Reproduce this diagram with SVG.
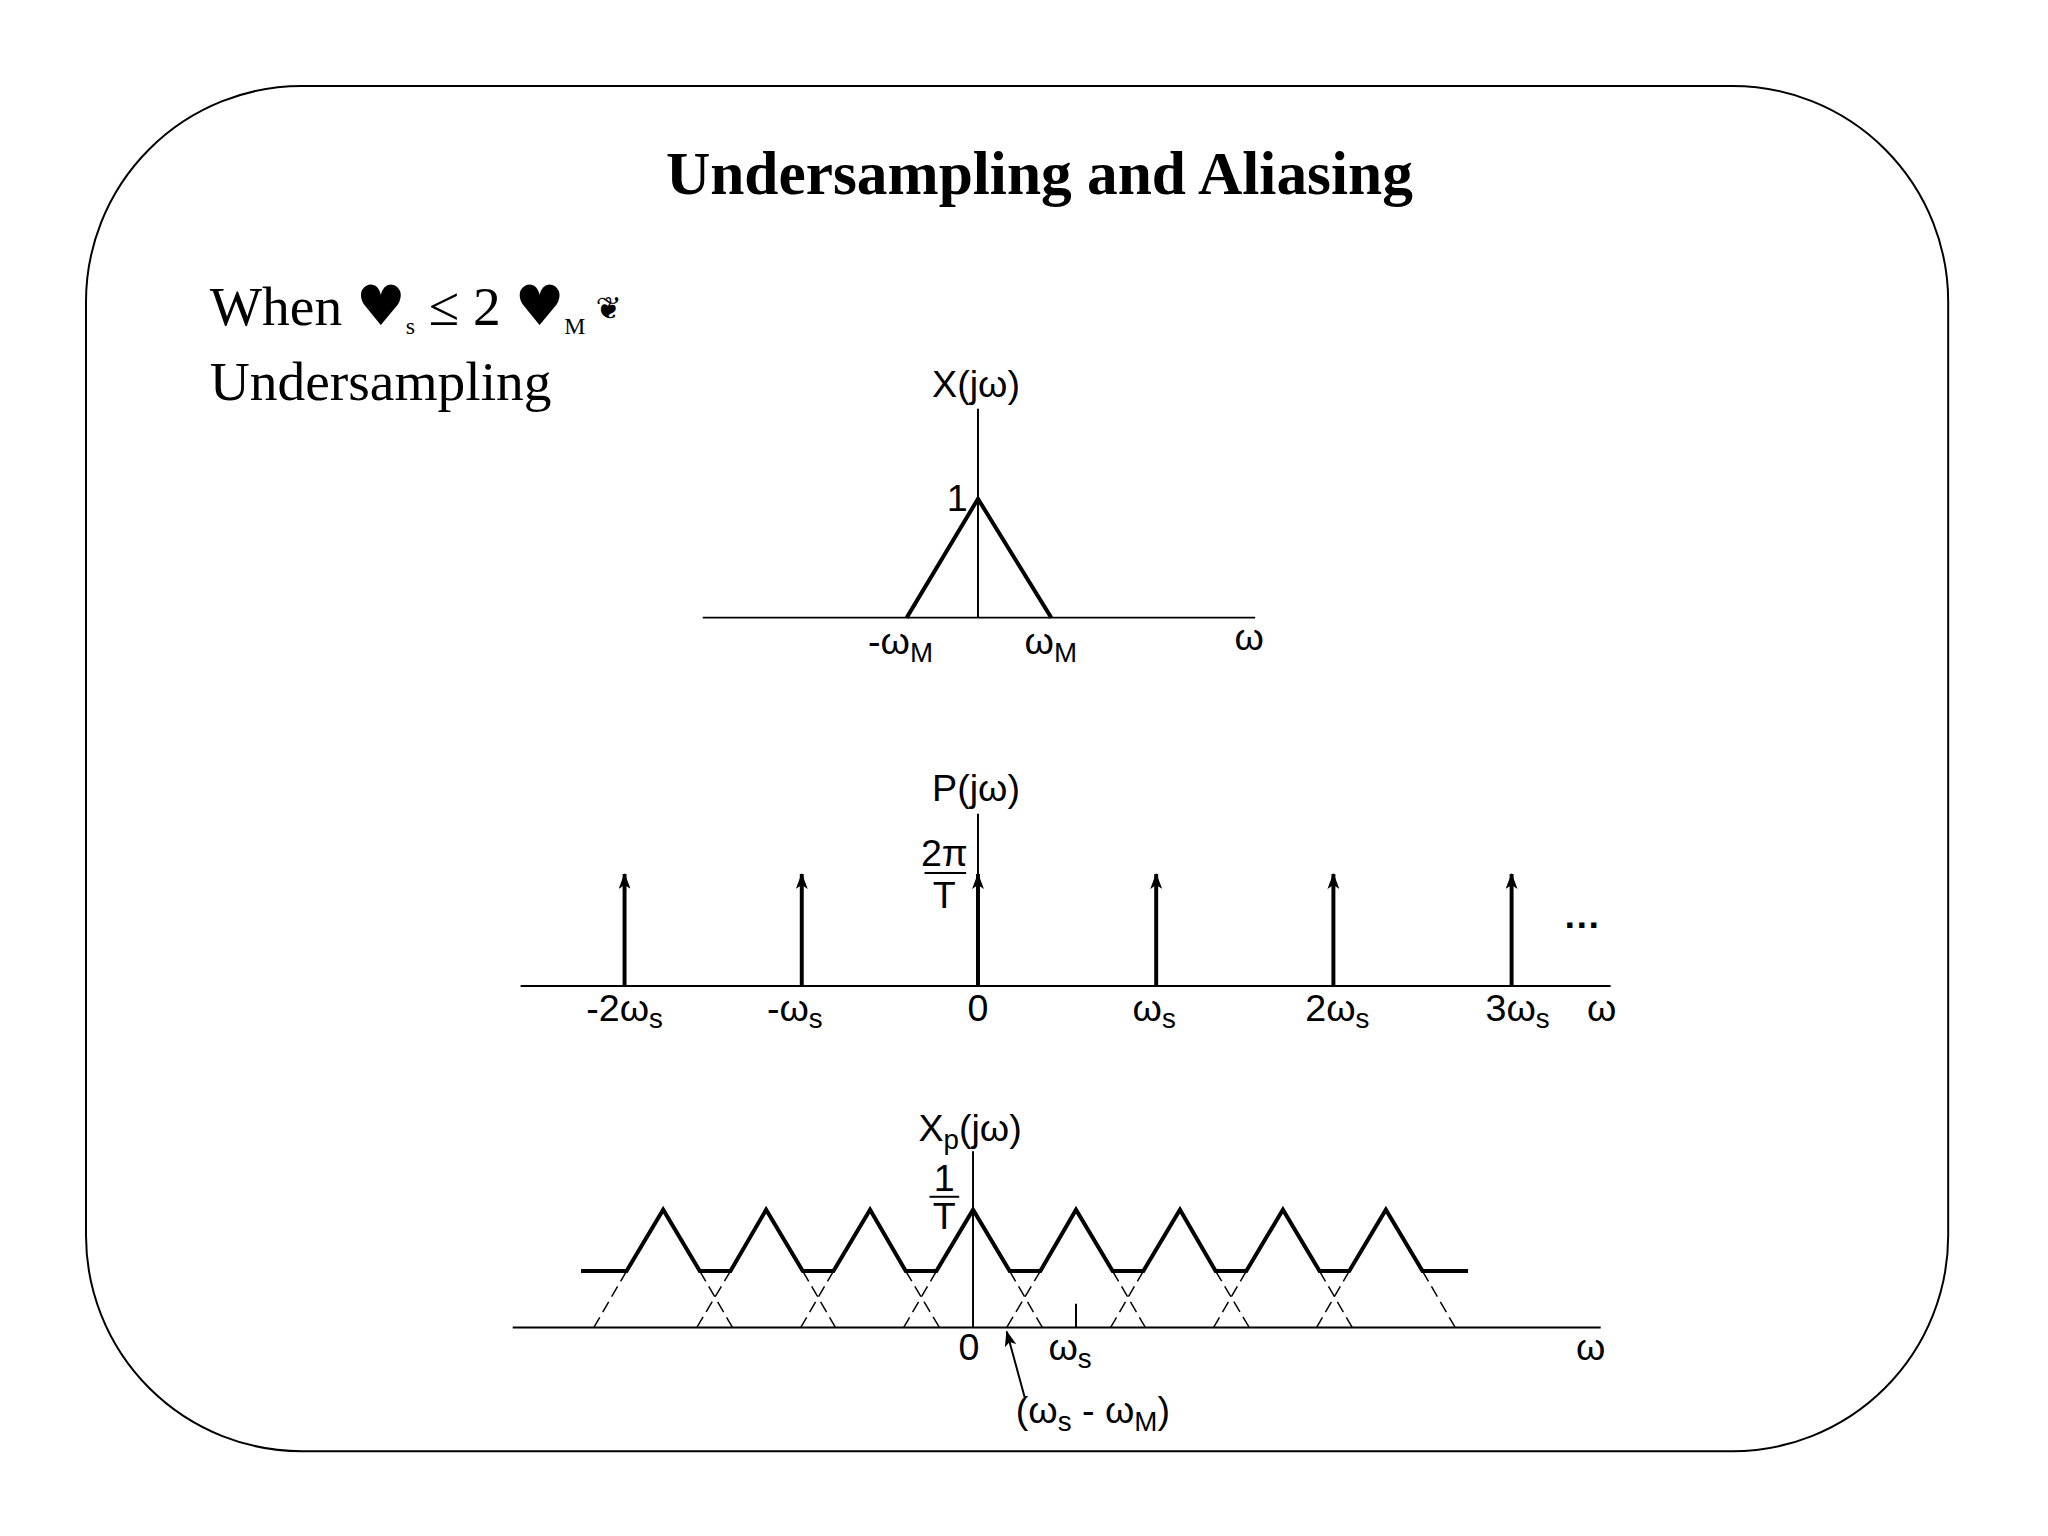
<svg xmlns="http://www.w3.org/2000/svg" width="2048" height="1536" viewBox="0 0 2048 1536">
<defs>
<style>
.ser{font-family:"Liberation Serif","Times New Roman",serif;fill:#000}
.lab{font-family:"Liberation Sans Narrow","Liberation Sans",Arial,sans-serif;font-size:38px;fill:#000}
.sub{font-size:28px}
.ax{stroke:#000;stroke-width:2;fill:none}
.imp{stroke:#000;stroke-width:4;fill:none}
.sol{stroke:#000;stroke-width:4;fill:none;stroke-linejoin:miter}
.dash{stroke:#000;stroke-width:1.5;fill:none;stroke-dasharray:12 6}
</style>
<marker id="ah" markerWidth="16" markerHeight="12" refX="15" refY="6" orient="auto" markerUnits="userSpaceOnUse" viewBox="0 0 16 12"><path d="M0,0 L16,6 L0,12 L4,6 Z" fill="#000"/></marker>
</defs>
<g transform="translate(86,86) scale(0.99) translate(-86,-86)">
<rect x="86" y="86" width="1881" height="1379" rx="218" ry="218" fill="#fff" stroke="#000" stroke-width="2"/>
<text class="ser" x="1049" y="195" font-size="62" font-weight="bold" text-anchor="middle">Undersampling and Aliasing</text>
<g id="intro">
<text class="ser" x="211" y="327" font-size="56">When <tspan font-family="DejaVu Sans" font-size="56">♥</tspan><tspan font-size="24" dy="10">s</tspan><tspan dy="-10"> ≤ 2 </tspan><tspan font-family="DejaVu Sans" font-size="56">♥</tspan><tspan font-size="24" dy="10">M</tspan><tspan dy="-16" font-family="DejaVu Sans" font-size="32"> ❦</tspan></text>
<text class="ser" x="211" y="403" font-size="56">Undersampling</text>
</g>
<g id="graph1">
<line class="ax" x1="709" y1="623" x2="1267" y2="623"/>
<line class="ax" x1="987" y1="412" x2="987" y2="623"/>
<polyline class="sol" points="915,623 987,503 1061,623"/>
<text class="lab" x="985" y="400" text-anchor="middle">X(jω)</text>
<text class="lab" x="966" y="515" text-anchor="middle">1</text>
<text class="lab" x="876" y="660">-ω<tspan class="sub" dy="8">M</tspan></text>
<text class="lab" x="1034" y="660">ω<tspan class="sub" dy="8">M</tspan></text>
<text class="lab" x="1261" y="656" text-anchor="middle">ω</text>
</g>
<g id="graph2">
<line class="ax" x1="525" y1="995" x2="1626" y2="995"/>
<line class="ax" x1="987" y1="821" x2="987" y2="995"/>
<g class="imp">
<line x1="630" y1="995" x2="630" y2="882" marker-end="url(#ah)"/>
<line x1="809" y1="995" x2="809" y2="882" marker-end="url(#ah)"/>
<line x1="987" y1="995" x2="987" y2="882" marker-end="url(#ah)"/>
<line x1="1167" y1="995" x2="1167" y2="882" marker-end="url(#ah)"/>
<line x1="1346" y1="995" x2="1346" y2="882" marker-end="url(#ah)"/>
<line x1="1526" y1="995" x2="1526" y2="882" marker-end="url(#ah)"/>
</g>
<text class="lab" x="985" y="808" text-anchor="middle">P(jω)</text>
<text class="lab" x="953" y="874" text-anchor="middle">2π</text>
<line x1="933" y1="881" x2="975" y2="881" stroke="#000" stroke-width="2"/>
<text class="lab" x="953" y="916" text-anchor="middle">T</text>
<text class="lab" x="1597" y="937" text-anchor="middle" font-weight="bold">…</text>
<text class="lab" x="630" y="1030" text-anchor="middle">-2ω<tspan class="sub" dy="8">s</tspan></text>
<text class="lab" x="802" y="1030" text-anchor="middle">-ω<tspan class="sub" dy="8">s</tspan></text>
<text class="lab" x="987" y="1030" text-anchor="middle">0</text>
<text class="lab" x="1165" y="1030" text-anchor="middle">ω<tspan class="sub" dy="8">s</tspan></text>
<text class="lab" x="1350" y="1030" text-anchor="middle">2ω<tspan class="sub" dy="8">s</tspan></text>
<text class="lab" x="1532" y="1030" text-anchor="middle">3ω<tspan class="sub" dy="8">s</tspan></text>
<text class="lab" x="1617" y="1030" text-anchor="middle">ω</text>
</g>
<g id="graph3">
<line class="ax" x1="517" y1="1340" x2="1616" y2="1340"/>
<line class="ax" x1="982" y1="1162" x2="982" y2="1340"/>
<line class="ax" x1="1086" y1="1316" x2="1086" y2="1340"/>
<polyline class="sol" points="586,1283 632,1283 669,1221 706,1283 737,1283 773,1221 810,1283 841,1283 878,1221 914,1283 945,1283 982,1221 1019,1283 1050,1283 1086,1221 1123,1283 1154,1283 1191,1221 1227,1283 1258,1283 1295,1221 1332,1283 1362,1283 1399,1221 1436,1283 1482,1283"/>
<g class="dash">
<path d="M632,1283 L599,1340 M706,1283 L739,1340"/>
<path d="M737,1283 L703,1340 M810,1283 L843,1340"/>
<path d="M841,1283 L808,1340 M914,1283 L948,1340"/>
<path d="M945,1283 L912,1340 M1019,1283 L1052,1340"/>
<path d="M1050,1283 L1016,1340 M1123,1283 L1156,1340"/>
<path d="M1154,1283 L1121,1340 M1227,1283 L1261,1340"/>
<path d="M1258,1283 L1225,1340 M1332,1283 L1365,1340"/>
<path d="M1362,1283 L1329,1340 M1436,1283 L1469,1340"/>
</g>
<text class="lab" x="979" y="1152" text-anchor="middle">X<tspan class="sub" dy="8">p</tspan><tspan dy="-8">(jω)</tspan></text>
<text class="lab" x="953" y="1202" text-anchor="middle">1</text>
<line x1="938" y1="1208" x2="968" y2="1208" stroke="#000" stroke-width="2"/>
<text class="lab" x="953" y="1241" text-anchor="middle">T</text>
<text class="lab" x="978" y="1373" text-anchor="middle">0</text>
<text class="lab" x="1080" y="1373" text-anchor="middle">ω<tspan class="sub" dy="8">s</tspan></text>
<text class="lab" x="1606" y="1373" text-anchor="middle">ω</text>
<line x1="1034" y1="1410" x2="1016" y2="1344" stroke="#000" stroke-width="2" marker-end="url(#ah)"/>
<text class="lab" x="1103" y="1437" text-anchor="middle">(ω<tspan class="sub" dy="8">s</tspan><tspan dy="-8"> - ω</tspan><tspan class="sub" dy="8">M</tspan><tspan dy="-8">)</tspan></text>
</g>
</g>
</svg>
